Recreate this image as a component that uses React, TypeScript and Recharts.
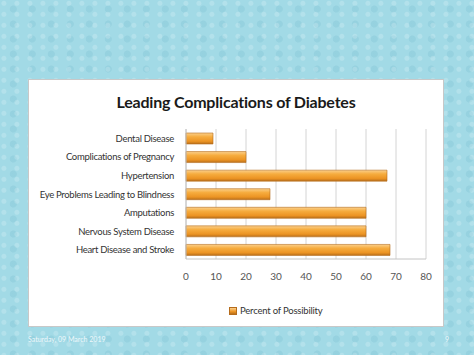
import { BarChart, Bar, XAxis, YAxis, CartesianGrid } from "recharts";

const complications = [
  "Dental Disease",
  "Complications of Pregnancy",
  "Hypertension",
  "Eye Problems Leading to Blindness",
  "Amputations",
  "Nervous System Disease",
  "Heart Disease and Stroke",
];
const percentOfPossibility = [9, 20, 67, 28, 60, 60, 68];
const xTicks = [0, 10, 20, 30, 40, 50, 60, 70, 80];

const data = complications.map((name, i) => ({ name, value: percentOfPossibility[i] }));

const FONT = "Lato, 'Open Sans', sans-serif";

// single-line category label (the default tick wraps long names)
const CategoryTick = (props: any) => {
  const { x, y, payload } = props;
  return (
    <text
      x={x}
      y={y}
      dy={3.5}
      textAnchor="end"
      fontSize={9.5}
      fill="#333"
      fontFamily={FONT}
      letterSpacing={-0.3}
    >
      {payload.value}
    </text>
  );
};

const App = () => (
  <div
    style={{
      position: "absolute",
      left: 0,
      top: 0,
      width: 474,
      height: 355,
      overflow: "hidden",
      fontFamily: FONT,
      backgroundColor: "#a2dae6",
      backgroundImage:
        "radial-gradient(circle at 30% 30%, rgba(255,255,255,0.18) 0 2px, transparent 3px), radial-gradient(circle at 70% 60%, rgba(80,160,185,0.15) 0 3px, transparent 4px)",
      backgroundSize: "13px 11px, 19px 15px",
    }}
  >
    {/* white slide panel */}
    <div
      style={{
        position: "absolute",
        left: 28,
        top: 79,
        width: 414,
        height: 246,
        background: "#fff",
        border: "1px solid #c8c8c8",
      }}
    />
    <div
      style={{
        position: "absolute",
        left: 28,
        top: 92,
        width: 416,
        textAlign: "center",
        fontWeight: 700,
        fontSize: 16,
        color: "#1a1a1a",
        letterSpacing: -0.2,
      }}
    >
      Leading Complications of Diabetes
    </div>

    <div style={{ position: "absolute", left: 0, top: 0 }}>
      <BarChart
        width={474}
        height={355}
        data={data}
        layout="vertical"
        margin={{ top: 129, right: 48, bottom: 65, left: 0 }}
        barSize={11}
      >
        <defs>
          <linearGradient id="barFill" x1="0" y1="0" x2="0" y2="1">
            <stop offset="0%" stopColor="#fbd08c" />
            <stop offset="35%" stopColor="#f6ac3e" />
            <stop offset="75%" stopColor="#ec9424" />
            <stop offset="100%" stopColor="#b96f1a" />
          </linearGradient>
        </defs>
        <CartesianGrid horizontal={false} stroke="#d4d4d4" />
        <XAxis
          type="number"
          domain={[0, 80]}
          ticks={xTicks}
          height={31}
          tickLine={false}
          tickMargin={8}
          axisLine={{ stroke: "#c4c4c4" }}
          tick={{ fontSize: 10, fill: "#555", fontFamily: FONT }}
        />
        <YAxis
          type="category"
          dataKey="name"
          width={186}
          tickLine={false}
          tickMargin={6}
          interval={0}
          axisLine={{ stroke: "#c4c4c4" }}
          tick={<CategoryTick />}
        />
        <Bar
          dataKey="value"
          fill="url(#barFill)"
          stroke="#b56c1c"
          strokeWidth={0.6}
          isAnimationActive={false}
        />
      </BarChart>
    </div>

    {/* legend */}
    <div
      style={{
        position: "absolute",
        left: 229,
        top: 305,
        display: "flex",
        alignItems: "center",
        fontSize: 9.5,
        color: "#333",
        letterSpacing: -0.2,
      }}
    >
      <span
        style={{
          display: "inline-block",
          width: 6,
          height: 6,
          marginRight: 3,
          background: "linear-gradient(#fbd08c, #ec9424 60%, #b96f1a)",
          border: "0.5px solid #b56c1c",
        }}
      />
      Percent of Possibility
    </div>

    {/* footer */}
    <div
      style={{
        position: "absolute",
        left: 28,
        top: 335,
        fontSize: 7,
        color: "#eef8fb",
      }}
    >
      Saturday, 09 March 2019
    </div>
    <div
      style={{
        position: "absolute",
        left: 445,
        top: 335,
        fontSize: 7,
        color: "#eef8fb",
      }}
    >
      9
    </div>
  </div>
);

export default App;
